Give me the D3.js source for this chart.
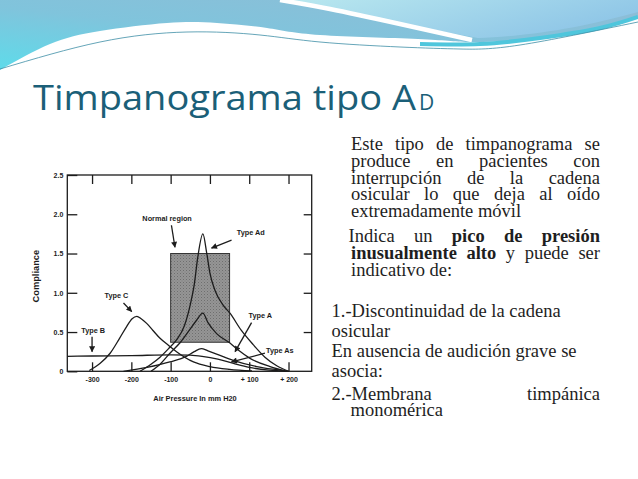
<!DOCTYPE html>
<html>
<head>
<meta charset="utf-8">
<script src="https://cdn.jsdelivr.net/npm/d3@7"></script>
<style>
  html, body { margin: 0; padding: 0; background: #fff; }
  svg { display: block; }
</style>
</head>
<body>
<svg id="slide" width="638" height="479"></svg>
<script>
// axis ticks
const pressureTicks = [-300, -200, -100, 0, 100, 200];
const pressureLabels = ["-300", "-200", "-100", "0", "+ 100", "+ 200"];
const complianceTicks = [0, 0.5, 1, 1.5, 2, 2.5];
const complianceLabels = ["0", "0.5", "1.0", "1.5", "2.0", "2.5"];

// curves: [pressure (mm H2O), compliance]
const typeB = [[-363, 0.19], [-300, 0.195], [-200, 0.2], [-100, 0.21], [-50, 0.205], [-20, 0.19],
  [20, 0.155], [60, 0.1], [100, 0.05], [150, 0.015], [200, 0]];
const typeC = [[-307, 0.01], [-280, 0.1], [-254, 0.23], [-230, 0.42], [-212, 0.57], [-198, 0.67],
  [-186, 0.7], [-175, 0.67], [-161, 0.61], [-145, 0.52], [-127, 0.42], [-105, 0.33], [-85, 0.25],
  [-42, 0.12], [0, 0.06], [50, 0.025], [107, 0.005]];
const typeAd = [[-178, 0], [-150, 0.09], [-127, 0.18], [-105, 0.29], [-85, 0.4], [-65, 0.58],
  [-50, 0.85], [-40, 1.1], [-31, 1.45], [-18, 1.75], [-8, 1.5], [0, 1.25], [13, 1.03], [34, 0.84],
  [51, 0.74], [80, 0.52], [110, 0.34], [140, 0.18], [170, 0.07], [200, 0]];
const typeA = [[-150, 0], [-125, 0.1], [-100, 0.24], [-75, 0.37], [-50, 0.54], [-34, 0.65],
  [-18, 0.74], [-5, 0.62], [17, 0.48], [51, 0.36], [72, 0.27], [102, 0.165], [153, 0.06], [195, 0]];
const typeAs = [[-220, 0], [-160, 0.05], [-102, 0.12], [-60, 0.19], [-40, 0.25], [-22, 0.29],
  [-5, 0.26], [17, 0.22], [59, 0.14], [119, 0.06], [170, 0.02], [200, 0]];

const normalRegion = { x0: -100, x1: 50, y0: 0.37, y1: 1.5 };

// callouts in data units: label centre/baseline, arrow tail -> head
const callouts = [
  { text: "Normal region", lx: -109, ly: 1.916, from: [-98, 1.86], to: [-89, 1.58] },
  { text: "Type Ad", lx: 104, ly: 1.734, from: [55, 1.67], to: [4, 1.57] },
  { text: "Type C", lx: -238, ly: 0.929, from: [-220, 0.87], to: [-199, 0.76] },
  { text: "Type B", lx: -297, ly: 0.491, from: [-300, 0.44], to: [-300, 0.25] },
  { text: "Type A", lx: 128, ly: 0.682, from: [106, 0.62], to: [64, 0.25] },
  { text: "Type As", lx: 178, ly: 0.229, from: [140, 0.23], to: [55, 0.12] }
];

// slide text
const paraUpper = ["Este tipo de timpanograma se", "produce en pacientes con",
  "interrupción de la cadena", "osicular lo que deja al oído", "extremadamente móvil"];
const paraPeak = ["Indica un *pico de presión*", "*inusualmente alto* y puede ser", "indicativo de:"];
const listLines = ["1.-Discontinuidad de la cadena", "osicular", "En ausencia de audición grave se",
  "asocia:", "2.-Membrana timpánica", "monomérica"];

const svg = d3.select("#slide");
const defs = svg.append("defs");

// ---- header swoosh ----
const gBand = defs.append("linearGradient").attr("id", "band")
  .attr("x1", 1).attr("y1", 0).attr("x2", 0).attr("y2", 1);
gBand.append("stop").attr("offset", 0).attr("stop-color", "#8fbcd6");
gBand.append("stop").attr("offset", 0.55).attr("stop-color", "#80c4dc");
gBand.append("stop").attr("offset", 1).attr("stop-color", "#5edbea");
const gLight = defs.append("linearGradient").attr("id", "light")
  .attr("x1", 0).attr("y1", 0).attr("x2", 1).attr("y2", 0.4);
gLight.append("stop").attr("offset", 0).attr("stop-color", "#b9e8ef");
gLight.append("stop").attr("offset", 1).attr("stop-color", "#8fc6e7");

const smooth = d3.line().curve(d3.curveNatural);
const bandEdge = [[0, 70], [50, 44], [100, 31], [167, 23], [217, 23], [267, 28], [320, 35],
  [418, 39], [468, 42], [518, 40], [580, 32], [638, 18]];
svg.append("path")
  .attr("d", "M638,0 L0,0 L" + smooth(bandEdge).slice(1) + " Z")
  .attr("fill", "url(#band)");

const lightEdge = [[638, 12], [580, 26], [520, 35], [478, 38]];
const swoosh = [[478, 38], [420, 27], [370, 17], [320, 7], [285, 0]];
svg.append("path")
  .attr("d", "M285,0 L638,0 " + smooth(lightEdge).replace("M", "L") + " " + smooth(swoosh).replace("M", "L") + " Z")
  .attr("fill", "url(#light)");
svg.append("path")
  .attr("d", smooth([[280, 0], [330, 9], [400, 24], [472, 40]]))
  .attr("fill", "none").attr("stroke", "#fff").attr("stroke-width", 4.5);
svg.append("path")
  .attr("d", smooth([[420, 44], [480, 44], [540, 38], [600, 28], [638, 17]]))
  .attr("fill", "none").attr("stroke", "#4fc6dc").attr("stroke-width", 4);
svg.append("path")
  .attr("d", smooth([[0, 69], [100, 42], [187, 32], [260, 35], [320, 42], [400, 47], [460, 49], [520, 45], [638, 22]]))
  .attr("fill", "none").attr("stroke", "#3d8ea6").attr("stroke-width", 0.8);

// ---- title ----
svg.append("text")
  .attr("x", 33).attr("y", 110)
  .attr("font-family", "'Open Sans', 'Noto Sans', sans-serif")
  .attr("font-size", 35)
  .attr("fill", "#1b5f78")
  .attr("textLength", 383).attr("lengthAdjust", "spacingAndGlyphs")
  .text("Timpanograma tipo A");
svg.append("text")
  .attr("x", 419).attr("y", 110)
  .attr("font-family", "'Open Sans', 'Noto Sans', sans-serif")
  .attr("font-size", 21)
  .attr("fill", "#1b5f78")
  .text("D");

// ---- tympanogram ----
const x = d3.scaleLinear().domain([-363, 259]).range([67.3, 311.7]);
const y = d3.scaleLinear().domain([0, 2.5]).range([371.3, 175]);
const ink = "#1c1c1c";
const chart = svg.append("g").attr("font-family", "'Liberation Sans', Arial, sans-serif")
  .attr("font-weight", "bold");

const pat = defs.append("pattern").attr("id", "stipple")
  .attr("width", 3).attr("height", 3).attr("patternUnits", "userSpaceOnUse");
pat.append("rect").attr("width", 3).attr("height", 3).attr("fill", "#959595");
pat.append("rect").attr("width", 1).attr("height", 1).attr("fill", "#6e6e6e");
pat.append("rect").attr("x", 1.5).attr("y", 1.5).attr("width", 1).attr("height", 1).attr("fill", "#7c7c7c");

chart.append("rect")
  .attr("x", x(normalRegion.x0)).attr("y", y(normalRegion.y1))
  .attr("width", x(normalRegion.x1) - x(normalRegion.x0))
  .attr("height", y(normalRegion.y0) - y(normalRegion.y1))
  .attr("fill", "url(#stipple)").attr("stroke", "#333").attr("stroke-width", 1);

function styleAxis(g) {
  g.select(".domain").remove();
  g.selectAll(".tick line").attr("stroke", ink).attr("stroke-width", 1.3);
  g.selectAll(".tick text").attr("fill", ink).attr("font-size", 7);
}

chart.append("g").attr("transform", `translate(0,${y(0)})`)
  .call(d3.axisBottom(x).tickValues(pressureTicks).tickFormat((d, i) => pressureLabels[i])
    .tickSizeInner(-9).tickSizeOuter(0).tickPadding(6))
  .call(styleAxis);
chart.append("g").attr("transform", `translate(0,${y(2.5)})`)
  .call(d3.axisTop(x).tickValues(pressureTicks).tickFormat("").tickSizeInner(-9).tickSizeOuter(0))
  .call(styleAxis);
chart.append("g").attr("transform", `translate(${x.range()[0]},0)`)
  .call(d3.axisLeft(y).tickValues(complianceTicks).tickFormat((d, i) => complianceLabels[i])
    .tickSizeInner(-10).tickSizeOuter(0).tickPadding(4))
  .call(styleAxis);
chart.append("g").attr("transform", `translate(${x.range()[1]},0)`)
  .call(d3.axisRight(y).tickValues(complianceTicks.slice(1, 5)).tickFormat("").tickSizeInner(-8).tickSizeOuter(0))
  .call(styleAxis);

chart.append("rect")
  .attr("x", x.range()[0]).attr("y", y.range()[1])
  .attr("width", x.range()[1] - x.range()[0])
  .attr("height", y.range()[0] - y.range()[1])
  .attr("fill", "none").attr("stroke", ink).attr("stroke-width", 1.3);

const line = d3.line().x(d => x(d[0])).y(d => y(d[1])).curve(d3.curveMonotoneX);
chart.append("g").selectAll("path")
  .data([typeB, typeC, typeAs, typeA, typeAd])
  .join("path")
  .attr("d", line)
  .attr("fill", "none").attr("stroke", ink).attr("stroke-width", 1.3);

defs.append("marker").attr("id", "head")
  .attr("viewBox", "0 0 10 10").attr("refX", 9).attr("refY", 5)
  .attr("markerWidth", 7).attr("markerHeight", 6).attr("markerUnits", "userSpaceOnUse")
  .attr("orient", "auto")
  .append("path").attr("d", "M0,0 L10,5 L0,10 Z").attr("fill", ink);

chart.append("g").selectAll("line")
  .data(callouts)
  .join("line")
  .attr("x1", d => x(d.from[0])).attr("y1", d => y(d.from[1]))
  .attr("x2", d => x(d.to[0])).attr("y2", d => y(d.to[1]))
  .attr("stroke", ink).attr("stroke-width", 1.3)
  .attr("marker-end", "url(#head)");

chart.append("g").selectAll("text")
  .data(callouts)
  .join("text")
  .attr("x", d => x(d.lx)).attr("y", d => y(d.ly))
  .attr("text-anchor", "middle").attr("font-size", 7.3).attr("fill", ink)
  .text(d => d.text);

chart.append("text")
  .attr("transform", `translate(39,${(y(0) + y(2.5)) / 2 + 3}) rotate(-90)`)
  .attr("text-anchor", "middle").attr("font-size", 9.3).attr("fill", ink)
  .text("Compliance");
chart.append("text")
  .attr("x", 195).attr("y", 401)
  .attr("text-anchor", "middle").attr("font-size", 7.4).attr("fill", ink)
  .text("Air Pressure In mm H20");

// ---- body text ----
const body = svg.append("g")
  .attr("font-family", "'Liberation Serif', 'Times New Roman', serif")
  .attr("font-size", 18.5).attr("fill", "#1e1e1e");

function setLine(str, x0, yb, width, justify) {
  let bold = false;
  const words = str.split(" ").map(w => {
    if (w.startsWith("*")) bold = true;
    const item = { t: w.replace(/\*/g, ""), b: bold };
    if (w.endsWith("*")) bold = false;
    return item;
  });
  const nodes = words.map(w => body.append("text")
    .attr("y", yb)
    .attr("font-weight", w.b ? "bold" : "normal")
    .text(w.t));
  const widths = nodes.map(n => n.node().getComputedTextLength());
  const total = d3.sum(widths);
  const gap = justify && words.length > 1 ? (width - total) / (words.length - 1) : 18.5 * 0.25;
  let cx = x0;
  nodes.forEach((n, i) => { n.attr("x", cx); cx += widths[i] + gap; });
}

paraUpper.forEach((s, i) => setLine(s, 351, 150 + i * 16.8, 249, i < paraUpper.length - 1));
paraPeak.forEach((s, i) => setLine(s, i === 0 ? 348.5 : 351, 241.7 + i * 17, i === 0 ? 251.5 : 249, i < 2));

const listY = [316.7, 336.7, 356.7, 377.3, 400, 416];
listLines.forEach((s, i) => {
  const x0 = i === 5 ? 350.5 : 331.5;
  setLine(s, x0, listY[i], 600 - x0, i === 4);
});
</script>
</body>
</html>
